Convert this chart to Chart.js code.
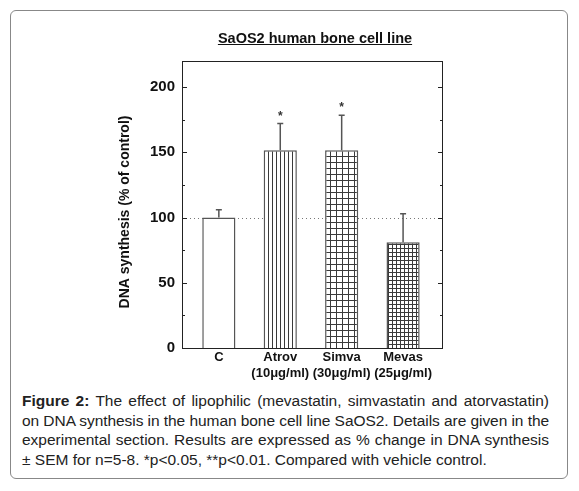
<!DOCTYPE html>
<html>
<head>
<meta charset="utf-8">
<script src="https://cdn.jsdelivr.net/npm/chart.js@4.4.1/dist/chart.umd.min.js"></script>
<style>
  body { margin: 0; background: #fff; }
  #frame {
    position: absolute; left: 10px; top: 10px; width: 556px; height: 467px;
    border: 1.5px solid #888; border-radius: 6px;
  }
  #chart { position: absolute; left: 0; top: 0; }
  #title {
    position: absolute; left: 165px; top: 30px; width: 300px; text-align: center;
    font: bold 14.5px "Liberation Sans", Arial, sans-serif; color: #111;
    text-decoration: underline;
  }
  #caption {
    position: absolute; left: 22px; top: 391px; width: 527px;
    font: 15.5px "Liberation Sans", Arial, sans-serif; color: #222; line-height: 19.7px;
  }
  #caption div { white-space: nowrap; text-align: justify; text-align-last: justify; }
  #caption div.last { text-align-last: left; }
</style>
</head>
<body>
<div id="frame"></div>
<canvas id="chart" width="579" height="390"></canvas>
<div id="title">SaOS2 human bone cell line</div>
<div id="caption">
  <div><span><b>Figure 2:</b> The effect of lipophilic (mevastatin, simvastatin and atorvastatin)</span></div>
  <div><span>on DNA synthesis in the human bone cell line SaOS2. Details are given in the</span></div>
  <div><span>experimental section. Results are expressed as % change in DNA synthesis</span></div>
  <div class="last"><span>± SEM for n=5-8. *p&lt;0.05, **p&lt;0.01. Compared with vehicle control.</span></div>
</div>
<script>
const categories = ['C', ['Atrov', '(10μg/ml)'], ['Simva', '(30μg/ml)'], ['Mevas', '(25μg/ml)']];
const xPos = [0, 1, 2, 3];
const means = [100, 151.5, 151.5, 81];
const errors = [6, 20.5, 27, 22];
const stars = ['', '*', '*', ''];
const yTicks = [0, 50, 100, 150, 200];
const yTickMarks = [0, 25, 50, 75, 100, 125, 150, 175, 200];
const yTitle = 'DNA synthesis (% of control)';
const controlLevel = 100;

// squeeze caption lines that are wider than the box
document.querySelectorAll('#caption span').forEach(function(span) {
    const w = span.getBoundingClientRect().width;
    if (w > 527) {
        span.parentNode.style.letterSpacing = ((527 - w) / span.textContent.length) + 'px';
    }
});

// small tiles for the hatch fills
function makePattern(size, vertical, horizontal) {
    const c = document.createElement('canvas');
    c.width = size; c.height = size;
    const g = c.getContext('2d');
    g.fillStyle = '#fff';
    g.fillRect(0, 0, size, size);
    g.fillStyle = '#3a3a3a';
    if (vertical) g.fillRect(0, 0, 1, size);
    if (horizontal) g.fillRect(0, 0, size, 1);
    return g.createPattern(c, 'repeat');
}

const fills = ['#fff', makePattern(4, true, false), makePattern(6, true, true), makePattern(4, true, true)];

const framePlugin = {
    id: 'framePlugin',
    beforeDatasetsDraw(chart) {
        const ctx = chart.ctx, a = chart.chartArea, y = chart.scales.y;
        const py = Math.round(y.getPixelForValue(controlLevel)) + 0.5;
        ctx.save();
        ctx.strokeStyle = '#777';
        ctx.lineWidth = 1;
        ctx.setLineDash([1, 3]);
        ctx.beginPath();
        ctx.moveTo(a.left, py);
        ctx.lineTo(a.right, py);
        ctx.stroke();
        ctx.restore();
    },
    afterDatasetsDraw(chart) {
        const ctx = chart.ctx, a = chart.chartArea, y = chart.scales.y;
        const bars = chart.getDatasetMeta(0).data;
        ctx.save();
        // error bars (upper only) and significance marks
        ctx.strokeStyle = '#555';
        ctx.lineWidth = 1.5;
        bars.forEach(function(bar, i) {
            const top = y.getPixelForValue(means[i] + errors[i]);
            ctx.beginPath();
            ctx.moveTo(bar.x, bar.y);
            ctx.lineTo(bar.x, top);
            ctx.moveTo(bar.x - 3, top);
            ctx.lineTo(bar.x + 3, top);
            ctx.stroke();
            if (stars[i]) {
                ctx.fillStyle = '#333';
                ctx.font = 'bold 12px "Liberation Sans", Arial';
                ctx.textAlign = 'center';
                ctx.textBaseline = 'bottom';
                ctx.fillText(stars[i], bar.x, top - 1);
            }
        });
        // plot box with inward ticks on both sides
        ctx.strokeStyle = '#222';
        ctx.lineWidth = 1;
        ctx.strokeRect(a.left + 0.5, a.top + 0.5, a.right - a.left - 1, a.bottom - a.top);
        yTickMarks.forEach(function(v) {
            const py = Math.round(y.getPixelForValue(v)) + 0.5;
            const len = v % 50 === 0 ? 5 : 3;
            ctx.beginPath();
            ctx.moveTo(a.left, py);
            ctx.lineTo(a.left + len, py);
            ctx.moveTo(a.right, py);
            ctx.lineTo(a.right - len, py);
            ctx.stroke();
        });
        // y axis title, sits a little below the middle of the axis
        ctx.translate(125, 212);
        ctx.rotate(-Math.PI / 2);
        ctx.fillStyle = '#111';
        ctx.font = 'bold 14px "Liberation Sans", Arial';
        ctx.textAlign = 'center';
        ctx.textBaseline = 'middle';
        ctx.fillText(yTitle, 0, 0);
        ctx.restore();
    }
};

new Chart(document.getElementById('chart'), {
    type: 'bar',
    data: {
        datasets: [{
            data: means.map((m, i) => ({ x: xPos[i], y: m })),
            backgroundColor: fills,
            borderColor: '#555',
            borderWidth: 1.5,
            barPercentage: 0.54,
            categoryPercentage: 1
        }]
    },
    options: {
        responsive: false,
        animation: false,
        layout: { padding: { left: 100, right: 136, top: 61, bottom: 2 } },
        plugins: { legend: { display: false }, tooltip: { enabled: false } },
        scales: {
            x: {
                type: 'linear',
                min: -0.6,
                max: 3.65,
                offset: false,
                grid: { display: false, drawTicks: false },
                border: { display: false },
                afterBuildTicks: s => { s.ticks = xPos.map(v => ({ value: v })); },
                afterFit: s => { s.height = 40; },
                ticks: {
                    padding: 2,
                    color: '#111',
                    font: { family: '"Liberation Sans", Arial', size: 13, weight: 'bold' },
                    callback: v => categories[Math.round(v)]
                }
            },
            y: {
                min: 0,
                max: 220,
                grid: { display: false, drawTicks: false },
                border: { display: false },
                afterBuildTicks: s => { s.ticks = yTicks.map(v => ({ value: v })); },
                afterFit: s => { s.width = 82; },
                ticks: {
                    padding: 7,
                    color: '#111',
                    font: { family: '"Liberation Sans", Arial', size: 15, weight: 'bold' }
                }
            }
        }
    },
    plugins: [framePlugin]
});
</script>
</body>
</html>
